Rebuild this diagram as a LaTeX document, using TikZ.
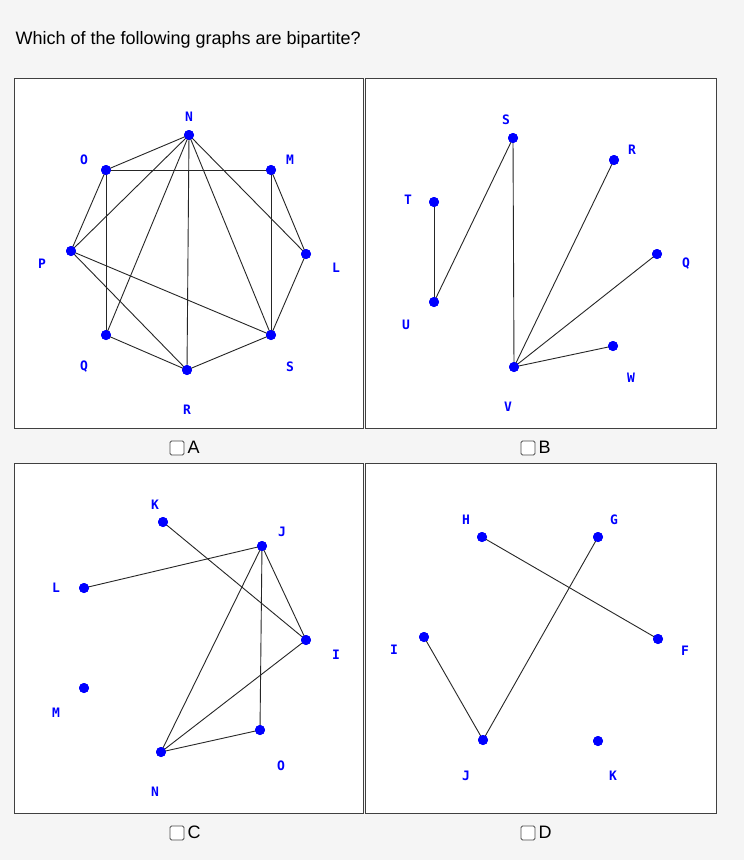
\documentclass[tikz,border=0pt]{standalone}
\usepackage{fontspec}
\setmainfont{Liberation Sans}
\newfontfamily\lblfont{DejaVu Sans Mono}
\begin{document}
\begin{tikzpicture}[x=1pt,y=-1pt,
  dot/.style={circle,fill=blue,inner sep=0pt,minimum size=10pt},
  lbl/.style={text=blue,font=\lblfont\bfseries\fontsize{13}{13}\selectfont},
  panel/.style={draw=black!75,fill=white,line width=0.9pt},
  edge/.style={draw=black!85,line width=0.9pt},
  cb/.style={draw=black!70,line width=0.9pt,fill=white,minimum size=14pt,inner sep=0pt,rounded corners=1.5pt},
  cbl/.style={font=\fontsize{18}{18}\selectfont,anchor=west}]
\fill[black!4] (0,0) rectangle (744,860);
\useasboundingbox (0,0) rectangle (744,860);
\node[anchor=west,font=\fontsize{18}{18}\selectfont] (title) at (12,40) {Which of the following graphs are bipartite?};
\draw[panel] (14,78) rectangle (363,428);
\draw[panel] (365,78) rectangle (716,428);
\draw[panel] (14,463) rectangle (363,813);
\draw[panel] (365,463) rectangle (716,813);
% Graph A
\node[dot] (aN) at (189,135) {}; \node[lbl] (laN) at (189,117) {N};
\node[dot] (aO) at (106,170) {}; \node[lbl] (laO) at (84,160) {O};
\node[dot] (aM) at (271,170) {}; \node[lbl] (laM) at (290,160) {M};
\node[dot] (aP) at (71,251) {}; \node[lbl] (laP) at (42,264) {P};
\node[dot] (aL) at (306,254) {}; \node[lbl] (laL) at (336,268) {L};
\node[dot] (aQ) at (106,335) {}; \node[lbl] (laQ) at (84,367) {Q};
\node[dot] (aS) at (271,335) {}; \node[lbl] (laS) at (290,367) {S};
\node[dot] (aR) at (187,370) {}; \node[lbl] (laR) at (187,410) {R};
\foreach \u/\v in {N/O,N/P,N/Q,N/R,N/S,N/L,O/M,O/P,O/Q,M/L,M/S,L/S,P/S,P/R,Q/R,R/S}
  \draw[edge] (a\u.center) -- (a\v.center);
\foreach \n in {N,O,M,P,L,Q,S,R} \node[dot] at (a\n) {};
% Graph B
\node[dot] (bS) at (513,138) {}; \node[lbl] (lbS) at (506,120) {S};
\node[dot] (bR) at (614,160) {}; \node[lbl] (lbR) at (632,150) {R};
\node[dot] (bT) at (434,202) {}; \node[lbl] (lbT) at (408,200) {T};
\node[dot] (bQ) at (657,254) {}; \node[lbl] (lbQ) at (686,264) {Q};
\node[dot] (bU) at (434,302) {}; \node[lbl] (lbU) at (406,325) {U};
\node[dot] (bW) at (613,346) {}; \node[lbl] (lbW) at (631,378) {W};
\node[dot] (bV) at (514,367) {}; \node[lbl] (lbV) at (508,407) {V};
\foreach \u/\v in {T/U,U/S,S/V,V/R,V/Q,V/W}
  \draw[edge] (b\u.center) -- (b\v.center);
\foreach \n in {S,R,T,Q,U,W,V} \node[dot] at (b\n) {};
% Graph C
\node[dot] (cK) at (163,522) {}; \node[lbl] (lcK) at (155,505) {K};
\node[dot] (cJ) at (262,546) {}; \node[lbl] (lcJ) at (282,532) {J};
\node[dot] (cL) at (84,588) {}; \node[lbl] (lcL) at (56,588) {L};
\node[dot] (cI) at (306,640) {}; \node[lbl] (lcI) at (336,655) {I};
\node[dot] (cM) at (84,688) {}; \node[lbl] (lcM) at (56,713) {M};
\node[dot] (cO) at (260,730) {}; \node[lbl] (lcO) at (281,766) {O};
\node[dot] (cN) at (161,752) {}; \node[lbl] (lcN) at (155,792) {N};
\foreach \u/\v in {L/J,K/I,J/N,J/O,J/I,I/N,N/O}
  \draw[edge] (c\u.center) -- (c\v.center);
\foreach \n in {K,J,L,I,M,O,N} \node[dot] at (c\n) {};
% Graph D
\node[dot] (dH) at (482,537) {}; \node[lbl] (ldH) at (466,520) {H};
\node[dot] (dG) at (598,537) {}; \node[lbl] (ldG) at (614,520) {G};
\node[dot] (dI) at (424,637) {}; \node[lbl] (ldI) at (394,650) {I};
\node[dot] (dF) at (658,639) {}; \node[lbl] (ldF) at (685,651) {F};
\node[dot] (dJ) at (483,740) {}; \node[lbl] (ldJ) at (466,776) {J};
\node[dot] (dK) at (598,741) {}; \node[lbl] (ldK) at (613,776) {K};
\foreach \u/\v in {H/F,G/J,I/J}
  \draw[edge] (d\u.center) -- (d\v.center);
\foreach \n in {H,G,I,F,J,K} \node[dot] at (d\n) {};
% checkboxes
\node[cb] (cbA) at (177,448) {}; \node[cbl] (tA) at (184,447) {A};
\node[cb] (cbB) at (528,448) {}; \node[cbl] (tB) at (535,447) {B};
\node[cb] (cbC) at (177,833) {}; \node[cbl] (tC) at (184,832) {C};
\node[cb] (cbD) at (528,833) {}; \node[cbl] (tD) at (535,832) {D};
\end{tikzpicture}
\end{document}
